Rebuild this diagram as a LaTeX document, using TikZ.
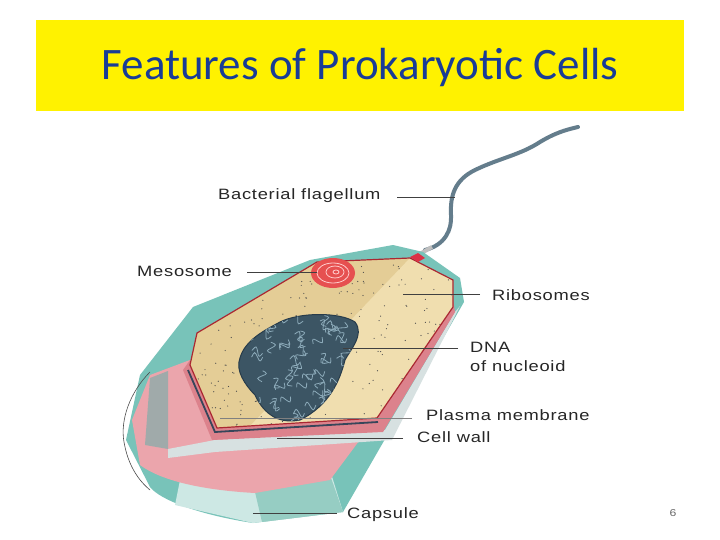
\documentclass[tikz,border=0pt]{standalone}
\usepackage{fontspec}
\setmainfont{Liberation Sans}[FakeStretch=1.22,LetterSpace=5]
\newfontfamily\titlefont{Carlito}
\begin{document}
\begin{tikzpicture}[x=1pt,y=-1pt,
  lbl/.style={anchor=west,inner sep=0pt,font=\fontsize{15}{16}\selectfont,text=black!85},
  lead/.style={draw=black!75,line width=0.9pt},
  pmlead/.style={draw=black!50,line width=0.9pt}]
\useasboundingbox (0,0) rectangle (720,540);
\fill[white] (0,0) rectangle (720,540);
% title
\fill[yellow] (36,20) rectangle (684,111);
\node[font=\titlefont\fontsize{45}{48}\selectfont,text={rgb,255:red,25;green,60;blue,150}] (title) at (360,68) {Features of Prokaryotic Cells};
% flagellum
\draw[line width=4pt,color={rgb,255:red,100;green,125;blue,140},line cap=round]
  (425,250) .. controls (445,245) and (452,230) .. (451,215)
  .. controls (450,195) and (455,180) .. (475,170)
  .. controls (500,158) and (520,155) .. (540,142)
  .. controls (555,133) and (565,130) .. (578,127);
\draw[line width=4pt,color=black!25] (418,255) -- (432,247);
% capsule (outer teal)
\fill[color={rgb,255:red,120;green,195;blue,185}]
  (393,245) -- (423,252) -- (460,278) -- (464,302) -- (343,512) -- (253,523)
  .. controls (200,515) and (160,500) .. (150,487) -- (126,440) -- (140,375) -- (193,307) -- (310,260) -- cycle;
\fill[color={rgb,255:red,205;green,232;blue,228}] (180,480) -- (250,490) -- (330,470) -- (343,512) -- (253,523) -- (175,505) -- cycle;
\fill[color={rgb,255:red,150;green,205;blue,195}] (255,492) -- (330,475) -- (343,512) -- (262,522) -- cycle;
% pink region
\fill[color={rgb,255:red,235;green,165;blue,172}]
  (150,375) -- (190,360) -- (217,428) -- (377,418) -- (445,318) -- (455,312)
  -- (330,480) -- (255,493) .. controls (200,490) and (160,480) .. (140,465) -- (132,420) -- cycle;
\fill[color={rgb,255:red,160;green,170;blue,170}] (150,378) -- (168,371) -- (168,449) -- (145,445) -- cycle;
\fill[color={rgb,255:red,215;green,225;blue,225}] (168,449) -- (215,440) -- (385,430) -- (455,312) -- (460,306) -- (392,440) -- (215,452) -- (168,458) -- cycle;
\fill[color={rgb,255:red,220;green,130;blue,140}] (190,360) -- (217,428) -- (377,418) -- (453,300) -- (455,312) -- (383,432) -- (212,440) -- (183,370) -- cycle;
% outline thin line left
\draw[black!70,line width=0.6pt] (150,372) .. controls (130,392) and (120,420) .. (124,442) .. controls (128,465) and (138,480) .. (150,490);
% cytoplasm
\fill[color={rgb,255:red,228;green,205;blue,150}]
  (190,365) -- (197,333) -- (317,262) -- (410,258) -- (453,280) -- (453,307) -- (377,418) -- (217,428) -- cycle;
\fill[color={rgb,255:red,240;green,222;blue,175}]
  (410,258) -- (453,280) -- (453,307) -- (377,418) -- (250,426) -- cycle;
\begin{scope}
\clip (190,365) -- (197,333) -- (317,262) -- (410,258) -- (453,280) -- (453,307) -- (377,418) -- (217,428) -- cycle;
\pgfmathsetseed{7}
\foreach \i in {1,...,260}{
  \pgfmathsetmacro{\rx}{190+rnd*265}
  \pgfmathsetmacro{\ry}{255+rnd*175}
  \fill[black!70] (\rx,\ry) circle (0.6);
}
\end{scope}
\draw[color={rgb,255:red,170;green,40;blue,50},line width=1.2pt]
  (190,365) -- (197,333) -- (317,262) -- (410,258) -- (453,280) -- (453,307) -- (377,418) -- (217,428) -- cycle;
\draw[color={rgb,255:red,55;green,70;blue,90},line width=1.8pt] (188,370) -- (215,432) -- (378,422);
\fill[color={rgb,255:red,220;green,50;blue,70}] (410,257) -- (418,253) -- (425,258) -- (418,262) -- cycle;
% mesosome
\fill[color={rgb,255:red,230;green,80;blue,80}] (333,273) ellipse (22 and 15);
\draw[white!80!red,line width=0.8pt] (333,273) ellipse (16 and 10);
\draw[white!80!red,line width=0.8pt] (335,272) ellipse (9 and 6);
\draw[white!80!red,line width=0.8pt] (336,272) ellipse (3 and 2);
% DNA nucleoid
\path[fill={rgb,255:red,60;green,85;blue,100},draw={rgb,255:red,40;green,60;blue,75},line width=1pt]
  (240,358) .. controls (245,340) and (265,330) .. (280,322)
  .. controls (300,312) and (340,312) .. (355,322)
  .. controls (365,335) and (350,350) .. (345,360)
  .. controls (340,380) and (330,405) .. (300,420)
  .. controls (275,425) and (262,410) .. (255,395)
  .. controls (245,385) and (235,370) .. cycle;
\begin{scope}[color={rgb,255:red,140;green,170;blue,185},line width=0.8pt]
\clip (240,358) .. controls (245,340) and (265,330) .. (280,322)
  .. controls (300,312) and (340,312) .. (355,322)
  .. controls (365,335) and (350,350) .. (345,360)
  .. controls (340,380) and (330,405) .. (300,420)
  .. controls (275,425) and (262,410) .. (255,395)
  .. controls (245,385) and (235,370) .. cycle;
\pgfmathsetseed{3}
\foreach \i in {1,...,70}{
  \pgfmathsetmacro{\ax}{242+rnd*112}
  \pgfmathsetmacro{\ay}{318+rnd*100}
  \pgfmathsetmacro{\an}{rnd*360}
  \draw[rotate around={\an:(\ax,\ay)}] (\ax,\ay) .. controls ++(3,-6) and ++(-3,-6) .. ++(6,0) .. controls ++(2,5) and ++(-2,5) .. ++(5,0);
}
\end{scope}
% labels
\node[lbl] (flag) at (218,196) {Bacterial flagellum};
\coordinate (flagS) at (397,197);
\coordinate (flagE) at (455,197);
\draw[lead] (flagS) -- (flagE);
\node[lbl] (meso) at (137,271) {Mesosome};
\coordinate (mesoS) at (247,272);
\coordinate (mesoE) at (317,272);
\draw[lead] (mesoS) -- (mesoE);
\node[lbl] (ribo) at (492,295) {Ribosomes};
\coordinate (riboS) at (480,294);
\coordinate (riboE) at (403,294);
\draw[lead] (riboS) -- (riboE);
\node[lbl,align=left,font=\fontsize{15}{19}\selectfont] (dna) at (470,357) {DNA\\of nucleoid};
\coordinate (dnaE) at (343,348);
\coordinate (dnaS) at (458,348);
\draw[lead] (dnaS) -- (dnaE);
\node[lbl] (pm) at (426,415) {Plasma membrane};
\coordinate (pmS) at (412,418);
\coordinate (pmE) at (220,418);
\draw[pmlead] (pmS) -- (pmE);
\node[lbl] (cw) at (417,437) {Cell wall};
\coordinate (cwS) at (403,438);
\coordinate (cwE) at (277,438);
\draw[lead] (cwS) -- (cwE);
\node[lbl] (cap) at (347,515) {Capsule};
\coordinate (capS) at (337,513);
\coordinate (capE) at (253,513);
\draw[lead] (capS) -- (capE);
\node[font=\fontsize{10}{12}\selectfont,text=black!60] (pg) at (673,513) {6};
\end{tikzpicture}
\end{document}
